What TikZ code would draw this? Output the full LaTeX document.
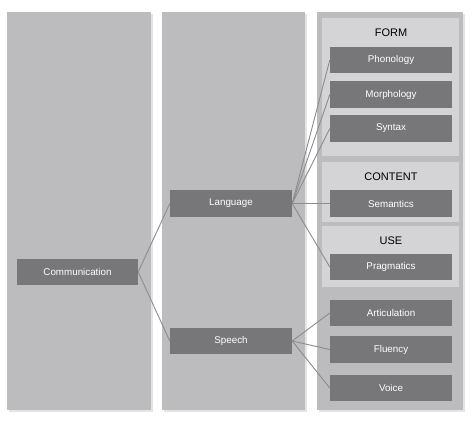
\documentclass[tikz,border=0pt]{standalone}
\usepackage{fontspec}
\setmainfont{Liberation Sans}
\definecolor{colgray}{HTML}{BCBCBF}
\definecolor{panelgray}{HTML}{D4D4D6}
\definecolor{boxgray}{HTML}{77777A}
\definecolor{linegray}{HTML}{8C8C8E}
\definecolor{shadowgray}{HTML}{E4E4E6}
\tikzset{
  colbg/.style={fill=colgray},
  colshadow/.style={fill=shadowgray},
  panelbg/.style={fill=panelgray},
  darkbox/.style={fill=boxgray, text=white, minimum width=122pt, minimum height=26.5pt, inner sep=0pt, font=\fontsize{9.8}{11}\selectfont},
  heading/.style={text=black, inner sep=0pt, font=\fontsize{11}{13}\selectfont},
  link/.style={draw=linegray, line width=0.9pt}
}
\begin{document}
\begin{tikzpicture}[x=1pt,y=-1pt]
\useasboundingbox (0,0) rectangle (474,424);
\fill[white] (0,0) rectangle (474,424);
% column shadows
\path[colshadow] (9,14) rectangle (153,412);
\path[colshadow] (164,14) rectangle (307,412);
\path[colshadow] (319,14) rectangle (465,412);
% columns
\path[colbg] (7,12) rectangle (151,410);
\path[colbg] (162,12) rectangle (305,410);
\path[colbg] (317,12) rectangle (463,410);
% panels
\path[panelbg] (322,18) rectangle (459,156);
\path[panelbg] (322,162) rectangle (459,222);
\path[panelbg] (322,226) rectangle (459,287);
% headings
\node[heading] (form) at (391,33) {FORM};
\node[heading] (content) at (391,177) {CONTENT};
\node[heading] (use) at (391,241) {USE};
% boxes
\node[darkbox, minimum width=121pt] (comm) at (77.5,272) {Communication};
\node[darkbox] (lang) at (231,203.5) {Language};
\node[darkbox] (speech) at (231,341) {Speech};
\node[darkbox] (phon) at (391,60) {Phonology};
\node[darkbox] (morph) at (391,94.5) {Morphology};
\node[darkbox] (syn) at (391,128.5) {Syntax};
\node[darkbox] (sem) at (391,203.5) {Semantics};
\node[darkbox] (prag) at (391,267) {Pragmatics};
\node[darkbox] (artic) at (391,313) {Articulation};
\node[darkbox] (flu) at (391,349.5) {Fluency};
\node[darkbox] (voice) at (391,388) {Voice};
% connectors
\draw[link] (comm.east) -- (lang.west);
\draw[link] (comm.east) -- (speech.west);
\draw[link] (lang.east) -- (phon.west);
\draw[link] (lang.east) -- (morph.west);
\draw[link] (lang.east) -- (syn.west);
\draw[link] (lang.east) -- (sem.west);
\draw[link] (lang.east) -- (prag.west);
\draw[link] (speech.east) -- (artic.west);
\draw[link] (speech.east) -- (flu.west);
\draw[link] (speech.east) -- (voice.west);
\end{tikzpicture}
\end{document}
